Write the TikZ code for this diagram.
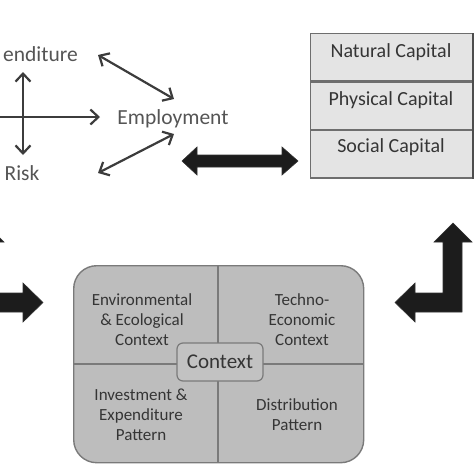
\documentclass[tikz,border=0pt]{standalone}
\usepackage{fontspec}
\setmainfont{Carlito}
\usetikzlibrary{arrows.meta}
\definecolor{lbl}{HTML}{555555}
\definecolor{thin}{HTML}{3C3C3C}
\definecolor{capfill}{HTML}{E4E4E4}
\definecolor{capline}{HTML}{6E6E6E}
\definecolor{ctxfill}{HTML}{BDBDBD}
\definecolor{ctxline}{HTML}{7A7A7A}
\definecolor{ctxtext}{HTML}{353535}
\definecolor{bigarrow}{HTML}{1C1C1C}
\tikzset{
  toplabel/.style={text=lbl, font=\fontsize{21.5}{24}\selectfont, inner sep=0pt},
  caprow/.style={draw=capline, fill=capfill, line width=1.2pt, minimum width=162pt, minimum height=47.3pt, inner sep=0pt},
  captext/.style={text=ctxtext, font=\fontsize{20}{24}\selectfont, inner sep=0pt, anchor=base},
  ctxlabel/.style={text=ctxtext, font=\fontsize{17}{20}\selectfont, align=center, inner sep=0pt},
  thinarrow/.style={draw=thin, line width=2.2pt, {Straight Barb[length=8pt,width=15pt]}-{Straight Barb[length=8pt,width=15pt]}},
  thinarrowone/.style={draw=thin, line width=2.2pt, -{Straight Barb[length=8pt,width=15pt]}},
  bigshape/.style={fill=bigarrow, draw=bigarrow!80!gray, line width=0.6pt, line join=miter}
}
\begin{document}
\begin{tikzpicture}[x=1pt,y=-1pt]
\useasboundingbox (0,0) rectangle (474,474);
\clip (0,0) rectangle (474,474);

% top-left labels
\node[toplabel, anchor=base east] (exp) at (78,61) {enditure};
\node[toplabel, anchor=base] (emp) at (173,124) {Employment};
\node[toplabel, anchor=base] (risk) at (22,180) {Risk};

% thin arrows
\coordinate (vtop) at (23,72);
\coordinate (vbot) at (23,155);
\coordinate (hleft) at (-10,117);
\coordinate (hright) at (100,117);
\coordinate (d1a) at (98,55);
\coordinate (d1b) at (174,99);
\coordinate (d2a) at (98,173);
\coordinate (d2b) at (174,134);
\draw[thinarrow] (vtop) -- (vbot);
\draw[thinarrowone] (hleft) -- (hright);
\draw[thinarrow] (d1a) -- (d1b);
\draw[thinarrow] (d2a) -- (d2b);

% thick double arrow
\fill[bigshape] (182,161) -- (197,147) -- (197,155) -- (282,155) -- (282,147) -- (298,161)
  -- (282,175) -- (282,167) -- (197,167) -- (197,175) -- cycle;

% capital box
\node[caprow, anchor=north west] (nat) at (310,33) {};
\node[caprow, anchor=north] (phy) at (nat.south) {};
\node[caprow, anchor=north] (soc) at (phy.south) {};
\draw[draw=capline!70!black, line width=2.2pt] (nat.north east) -- (soc.south east);
\node[captext] (natt) at (391,57) {Natural Capital};
\node[captext] (phyt) at (391,105) {Physical Capital};
\node[captext] (soct) at (391,152) {Social Capital};

% bent arrow right
\fill[bigshape] (453,223) -- (472,242) -- (462,242) -- (462,312) -- (415,312) -- (415,322)
  -- (395,302.5) -- (415,283) -- (415,293) -- (443,293) -- (443,242) -- (434,242) -- cycle;

% bent arrow left (mostly outside)
\fill[bigshape] (-15,223) -- (-34,242) -- (-24,242) -- (-24,312) -- (23,312) -- (23,322)
  -- (43,302.5) -- (23,283) -- (23,293) -- (-5,293) -- (-5,242) -- (4,242) -- cycle;

% context box
\node[draw=ctxline, fill=ctxfill, line width=1.4pt, rounded corners=23pt,
      minimum width=290pt, minimum height=197pt, inner sep=0pt, anchor=north west] (ctx) at (73,265) {};
\coordinate (vt) at (218,265);
\coordinate (vb) at (218,462);
\coordinate (hl) at (73,364);
\coordinate (hr) at (363,364);
\draw[draw=ctxline, line width=1.2pt] (vt) -- (vb);
\draw[draw=ctxline, line width=1.2pt] (hl) -- (hr);
\node[draw=ctxline, fill=ctxfill!92!white, line width=1.2pt, rounded corners=6pt,
      minimum width=86pt, minimum height=38pt, inner sep=0pt,
      text=ctxtext, font=\fontsize{21}{24}\selectfont] (ctr) at (220,362) {Context};

\node[ctxlabel] (env) at (142,320) {Environmental\\\& Ecological\\Context};
\node[ctxlabel] (tech) at (302,320) {Techno-\\Economic\\Context};
\node[ctxlabel] (inv) at (141,415) {Investment \&\\Expenditure\\Pattern};
\node[ctxlabel] (dist) at (297,415) {Distribution\\Pattern};
\end{tikzpicture}
\end{document}
